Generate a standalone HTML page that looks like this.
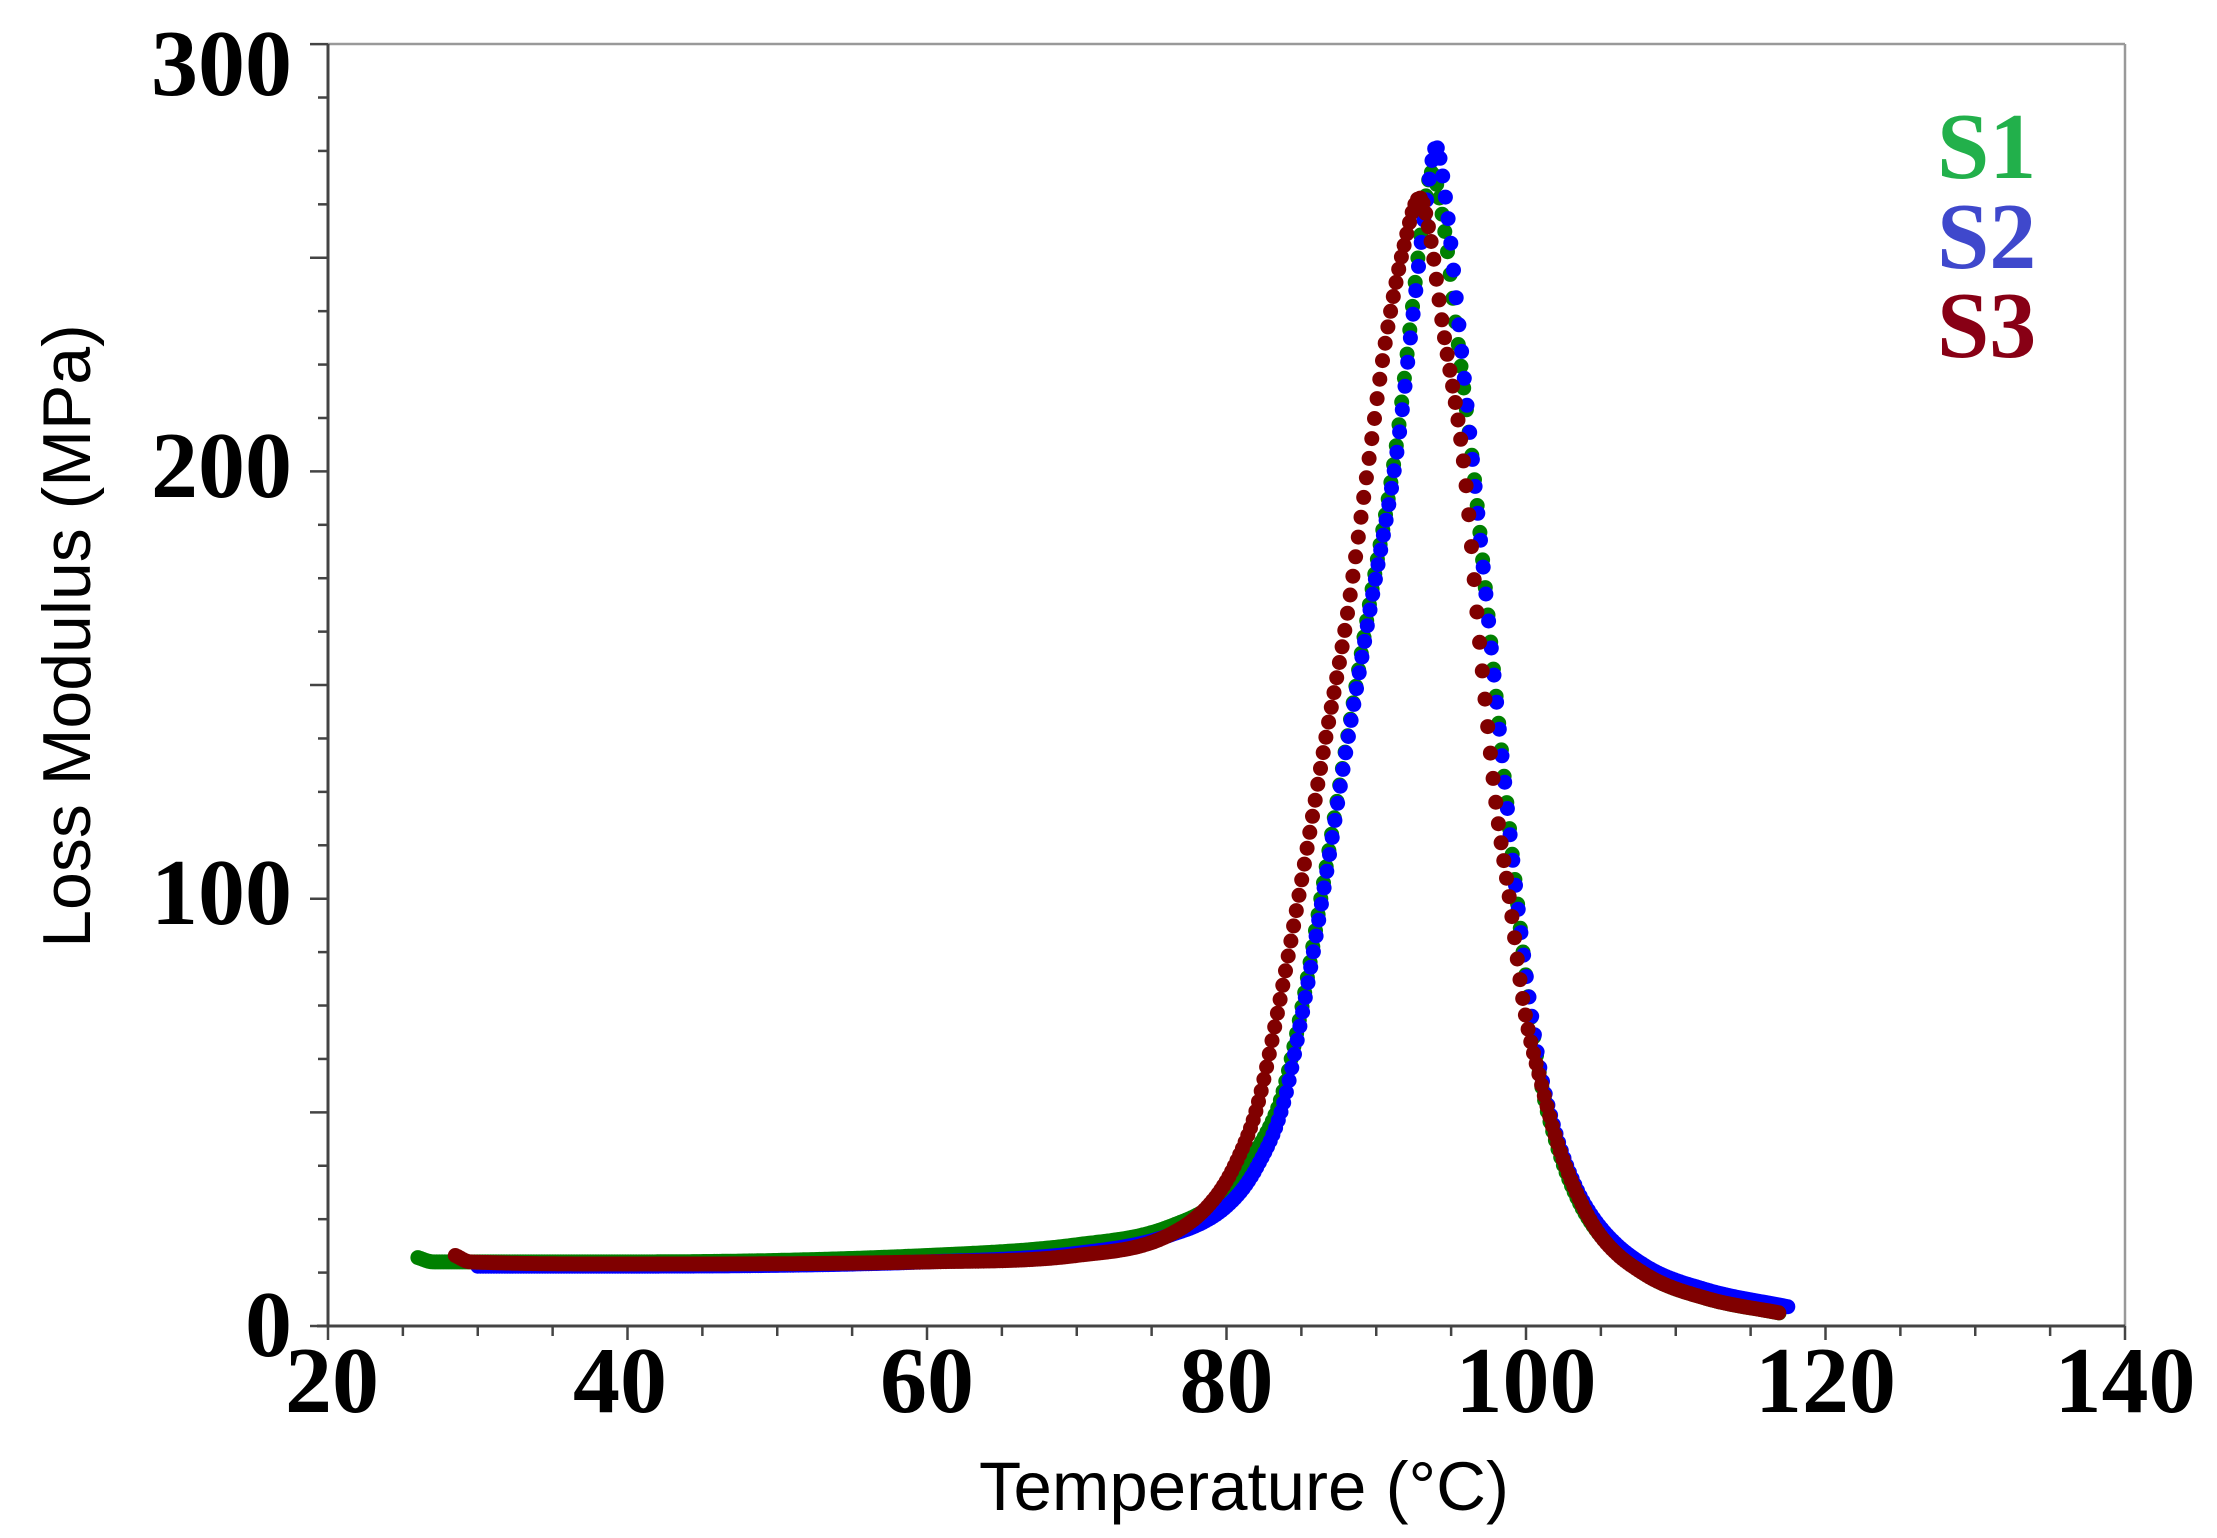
<!DOCTYPE html>
<html><head><meta charset="utf-8"><style>html,body{margin:0;padding:0;background:#fff}</style></head>
<body>
<svg id="s" width="2217" height="1533" viewBox="0 0 2217 1533" xmlns="http://www.w3.org/2000/svg">
<rect width="2217" height="1533" fill="#fff"/>
<g id="dots"></g>
<line x1="328" y1="44" x2="2125" y2="44" stroke="#999" stroke-width="2.5"/>
<line x1="2125" y1="44" x2="2125" y2="1326" stroke="#999" stroke-width="2.5"/>
<line x1="328" y1="44" x2="328" y2="1327" stroke="#444" stroke-width="3"/>
<line x1="317" y1="1326" x2="2125" y2="1326" stroke="#444" stroke-width="3"/>
<g id="ticks" stroke="#444" stroke-width="2.5"></g>
<g font-family="Liberation Serif, serif" font-weight="bold" font-size="94" fill="#000">
<text x="292" y="95" text-anchor="end">300</text>
<text x="292" y="497" text-anchor="end">200</text>
<text x="292" y="924" text-anchor="end">100</text>
<text x="292" y="1356" text-anchor="end">0</text>
<text x="332" y="1412" text-anchor="middle">20</text>
<text x="620" y="1412" text-anchor="middle">40</text>
<text x="927" y="1412" text-anchor="middle">60</text>
<text x="1226.5" y="1412" text-anchor="middle">80</text>
<text x="1526" y="1412" text-anchor="middle">100</text>
<text x="1825.5" y="1412" text-anchor="middle">120</text>
<text x="2125" y="1412" text-anchor="middle">140</text>
<text x="1937" y="178" fill="#22b04b">S1</text>
<text x="1937" y="268" fill="#3f48cc">S2</text>
<text x="1937" y="357" fill="#880015">S3</text>
</g>
<text x="1244" y="1510" text-anchor="middle" font-family="Liberation Sans, sans-serif" font-size="69">Temperature (°C)</text>
<text transform="translate(90,636) rotate(-90)" text-anchor="middle" font-family="Liberation Sans, sans-serif" font-size="68">Loss Modulus (MPa)</text>
</svg>
<script>
const X=t=>328+14.975*(t-20), Y=v=>1326-v*4.273;
const ns="http://www.w3.org/2000/svg";
const tk=document.getElementById('ticks');
function ln(a,b,c,d){const l=document.createElementNS(ns,'line');l.setAttribute('x1',a);l.setAttribute('y1',b);l.setAttribute('x2',c);l.setAttribute('y2',d);tk.appendChild(l);}
for(let t=20;t<=140;t+=5){ln(X(t),1326,X(t),t%20==0?1340:1336);}
for(let v=0;v<=300;v+=12.5){ln(v%50==0?310:318,Y(v),328,Y(v));}
const blue=[[30,14],[40,14],[60,15],[70,17],[76,21],[80,28],[82,37],[83.8,52],[85,72],[86.4,100],[88,135],[89.6,168],[91.4,205],[92.5,238],[93.3,262],[94,276],[94.7,262],[95.5,235],[96.5,200],[97.5,165],[98.5,130],[99.4,100],[100.2,77],[101,59],[102,45],[103.4,32],[105,23],[108,14],[112,8.5],[117.5,4.5]];
const green=[[26,16],[27,15],[40,15],[60,16.5],[70,19],[76,23],[80,31],[82,41],[83.7,54],[85,74],[86.3,100],[88,136],[89.5,168],[91.3,205],[92.4,238],[93.1,259],[93.7,270],[94.5,258],[95.4,232],[96.5,200],[97.5,165],[98.5,130],[99.4,100],[100.2,76],[101,57],[102,43],[103.4,30],[105,21],[108,12],[112,6.5],[117,3]];
const red=[[28.5,16.5],[29.5,15],[40,14.5],[60,15],[70,16.5],[76,21],[79,29],[80.6,38],[82.1,52],[83.5,75],[84.8,100],[86.5,135],[88,165],[89.4,200],[90.6,230],[91.8,252],[92.9,264],[93.6,255],[94.4,235],[95.9,200],[96.9,160],[98,122],[98.9,100],[99.9,74],[101,57],[102,44],[103.4,31],[105,21],[108,12],[112,6.5],[117,3]];
function mono(d){
  const n=d.length,h=[],s=[],m=[];
  for(let i=0;i<n-1;i++){h[i]=d[i+1][0]-d[i][0];s[i]=(d[i+1][1]-d[i][1])/h[i];}
  m[0]=s[0];m[n-1]=s[n-2];
  for(let i=1;i<n-1;i++){m[i]=(s[i-1]*s[i]<=0)?0:(s[i-1]+s[i])/2;}
  for(let i=0;i<n-1;i++){if(s[i]==0){m[i]=m[i+1]=0;continue;}const a=m[i]/s[i],b=m[i+1]/s[i],q=a*a+b*b;if(q>9){const t=3/Math.sqrt(q);m[i]=t*a*s[i];m[i+1]=t*b*s[i];}}
  return t=>{let i=0;while(i<n-2&&d[i+1][0]<t)i++;const u=(t-d[i][0])/h[i],u2=u*u,u3=u2*u;
    return (2*u3-3*u2+1)*d[i][1]+(u3-2*u2+u)*h[i]*m[i]+(-2*u3+3*u2)*d[i+1][1]+(u3-u2)*h[i]*m[i+1];};
}
const g=document.getElementById('dots');
function draw(d,col){
  const f=mono(d);
  for(let t=d[0][0];t<=d[d.length-1][0];t+=0.18){
    const c=document.createElementNS(ns,'circle');c.setAttribute('cx',X(t).toFixed(1));c.setAttribute('cy',Y(f(t)).toFixed(1));c.setAttribute('r',7.5);c.setAttribute('fill',col);g.appendChild(c);
  }
}
draw(green,'#008000');draw(blue,'#0000ff');draw(red,'#800000');
</script>
</body></html>
